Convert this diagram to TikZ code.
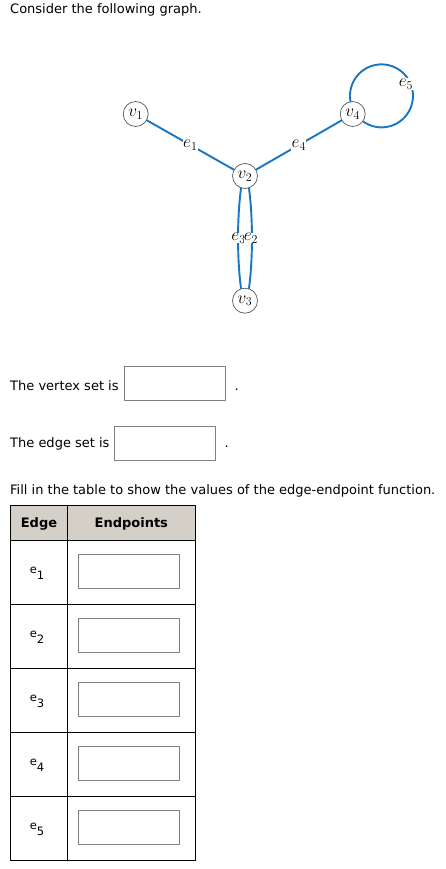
\documentclass[tikz,border=0pt]{standalone}
\usepackage{fontspec}
\setmainfont{DejaVu Sans}
\definecolor{edgeblue}{RGB}{24,118,194}
\definecolor{headgray}{RGB}{212,208,200}
\definecolor{boxgray}{RGB}{128,128,128}
\begin{document}
\begin{tikzpicture}[x=1pt, y=-1pt, line join=round, line cap=round,
	vtx/.style={circle, draw=black!65, line width=0.7pt, fill=white, inner sep=0pt, minimum size=25pt, font=\fontsize{17.28}{19}\selectfont},
	lbl/.style={fill=white, inner sep=0.5pt, font=\fontsize{17.28}{19}\selectfont},
	link/.style={draw=edgeblue, line width=1.9pt},
	blank/.style={draw=boxgray, line width=0.9pt, minimum width=101pt, minimum height=34pt, inner sep=0pt},
	txt/.style={anchor=base west, inner sep=0pt, font=\fontsize{13}{15}\selectfont},
	head/.style={inner sep=0pt, font=\fontsize{13}{15}\selectfont\bfseries}]
	\useasboundingbox (0,0) rectangle (446,869);
	\def\tl{10.7}
	\def\tr{195.3}
	\def\tm{67.3}
	\def\ttop{505.7}
	\def\tbot{860.7}
	% caption
	\node[txt] (cap) at (10,14) {Consider the following graph.};
	% graph
	\node[vtx] (v1) at (135.7,114) {$v_1$};
	\node[vtx] (v2) at (245,176) {$v_2$};
	\node[vtx] (v3) at (245,300.7) {$v_3$};
	\node[vtx] (v4) at (352.7,114) {$v_4$};
	\draw[link] (v1) -- node[lbl] (e1) {$e_1$} (v2);
	\draw[link] (v2) -- node[lbl] (e4) {$e_4$} (v4);
	\draw[link] (v2.252) .. controls +(-4,30) and +(-4,-30) .. node[lbl, inner sep=0pt, xshift=0.5pt] (e3) {$e_3$} (v3.108);
	\draw[link] (v2.288) .. controls +(4,30) and +(4,-30) .. node[lbl, inner sep=0pt, xshift=-1pt] (e2) {$e_2$} (v3.72);
	\draw[link] (v4.100) arc[start angle=170, end angle=485, radius=31.5];
	\node[lbl] (e5) at (406,84) {$e_5$};
	% sets
	\node[txt] (vset) at (10,390) {The vertex set is};
	\node[blank, anchor=north west] (vbox) at (124.3,366) {};
	\node[txt] (vdot) at (234.5,390) {.};
	\node[txt] (eset) at (10,447) {The edge set is};
	\node[blank, anchor=north west] (ebox) at (114.3,426) {};
	\node[txt] (edot) at (224.5,447) {.};
	\node[txt] (ask) at (10,494.5) {Fill in the table to show the values of the edge-endpoint function.};
	% table
	\fill[headgray] (\tl,\ttop) rectangle (\tr,540.7);
	\draw[line width=1.3pt] (\tl,\ttop) rectangle (\tr,\tbot);
	\draw[line width=1.3pt] (\tm,\ttop) -- (\tm,\tbot);
	\draw[line width=1.3pt] (\tl,540.7) -- (\tr,540.7);
	\node[head] (hedge) at (39,524) {Edge};
	\node[head] (hend) at (131.3,524) {Endpoints};
	\foreach \i in {1,...,5}{
		\pgfmathsetmacro{\ytop}{540.7+64*(\i-1)}
		\ifnum\i>1 \draw[line width=1.3pt] (\tl,\ytop) -- (\tr,\ytop); \fi
		\node[anchor=base, inner sep=0pt, font=\fontsize{11.5}{13}\selectfont] (r\i) at (37,\ytop+32.5) {e\raisebox{-6pt}{\i}};
		\node[blank] (b\i) at (128.8,\ytop+31) {};
	}
\end{tikzpicture}
\end{document}
